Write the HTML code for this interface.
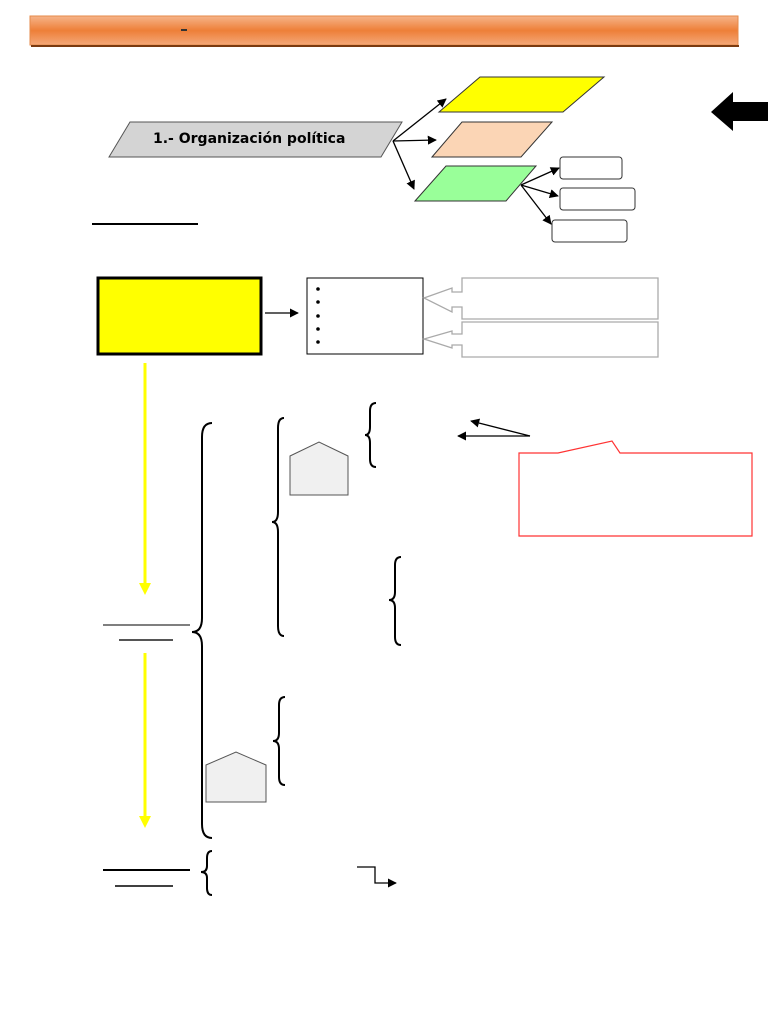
<!DOCTYPE html>
<html><head><meta charset="utf-8"><style>
html,body{margin:0;padding:0;background:#fff;}
svg{display:block;}
</style></head><body>
<svg width="768" height="1024" xmlns="http://www.w3.org/2000/svg" font-family="'Liberation Sans', sans-serif">
<defs>
<linearGradient id="hg" x1="0" y1="0" x2="0" y2="1">
<stop offset="0" stop-color="#f6b48a"/><stop offset="0.5" stop-color="#ee7f38"/><stop offset="1" stop-color="#f4a878"/>
</linearGradient>
<marker id="ah" viewBox="0 0 10 10" refX="9" refY="5" markerWidth="7" markerHeight="7" orient="auto"><path d="M0,0 L10,5 L0,10 z" fill="#000"/></marker>
</defs>
<rect x="30" y="16" width="708" height="29" fill="url(#hg)" stroke="#e58a4a"/>
<line x1="31" y1="46" x2="739" y2="46" stroke="#7a3a10" stroke-width="2"/>
<rect x="181" y="29" width="6" height="2" fill="#333"/>
<polygon points="109,157 130,122 402,122 381,157" fill="#d4d4d4" stroke="#555"/>
<text x="153" y="143" font-size="14" font-weight="bold" font-family="'DejaVu Sans', sans-serif">1.- Organización política</text>
<polygon points="439,112 480,77 604,77 563,112" fill="#ffff00" stroke="#333"/>
<polygon points="432,157 462,122 552,122 521,157" fill="#fbd5b5" stroke="#333"/>
<polygon points="415,201 446,166 536,166 506,201" fill="#99ff99" stroke="#333"/>
<g stroke="#000" stroke-width="1.3" fill="none" marker-end="url(#ah)">
<line x1="393" y1="141" x2="446" y2="99"/>
<line x1="393" y1="141" x2="436" y2="140"/>
<line x1="393" y1="141" x2="414" y2="189"/>
<line x1="521" y1="185" x2="559" y2="168"/>
<line x1="521" y1="185" x2="558" y2="196"/>
<line x1="521" y1="185" x2="551" y2="224"/>
<line x1="265" y1="313" x2="298" y2="313"/>
<line x1="530" y1="436" x2="471" y2="421"/>
<line x1="530" y1="436" x2="458" y2="436"/>
<polyline points="357,867 375,867 375,883 396,883"/>
</g>
<rect x="560" y="157" width="62" height="22" rx="3" fill="#fff" stroke="#333"/>
<rect x="560" y="188" width="75" height="22" rx="3" fill="#fff" stroke="#333"/>
<rect x="552" y="220" width="75" height="22" rx="3" fill="#fff" stroke="#333"/>
<polygon points="711,112 733,92 733,102 768,102 768,121 733,121 733,131" fill="#000"/>
<line x1="92" y1="224" x2="198" y2="224" stroke="#000" stroke-width="2"/>
<rect x="98" y="278" width="163" height="76" fill="#ffff00" stroke="#000" stroke-width="3"/>
<rect x="307" y="278" width="116" height="76" fill="#fff" stroke="#000"/>
<g fill="#000"><circle cx="318" cy="289" r="1.8"/><circle cx="318" cy="302" r="1.8"/><circle cx="318" cy="316" r="1.8"/><circle cx="318" cy="329" r="1.8"/><circle cx="318" cy="342" r="1.8"/></g>
<path d="M462,278 H658 V319 H462 V307 H452 V312 L424,298 L452,288 V292 H462 Z" fill="#fff" stroke="#aaa" stroke-width="1.3"/>
<path d="M462,322 H658 V357 H462 V345 H452 V348 L424,339 L452,331 V334 H462 Z" fill="#fff" stroke="#aaa" stroke-width="1.3"/>
<line x1="145" y1="363" x2="145" y2="584" stroke="#ffff00" stroke-width="3"/>
<polygon points="139,583 151,583 145,595" fill="#ffff00"/>
<line x1="145" y1="653" x2="145" y2="817" stroke="#ffff00" stroke-width="3"/>
<polygon points="139,816 151,816 145,828" fill="#ffff00"/>
<line x1="103" y1="625" x2="190" y2="625" stroke="#555" stroke-width="1.5"/>
<line x1="119" y1="640" x2="173" y2="640" stroke="#555" stroke-width="2"/>
<line x1="103" y1="870" x2="190" y2="870" stroke="#000" stroke-width="2"/>
<line x1="115" y1="886" x2="173" y2="886" stroke="#000" stroke-width="1.5"/>
<g stroke="#000" stroke-width="2" fill="none">
<path d="M212,423 Q202,423 202,437 L202,618 Q202,632 192,632 Q202,632 202,646 L202,824 Q202,838 212,838"/>
<path d="M284,418 Q278,418 278,428 L278,512 Q278,522 272,522 Q278,522 278,532 L278,626 Q278,636 284,636"/>
<path d="M376,403 Q370,403 370,411 L370,427 Q370,435 365,435 Q370,435 370,443 L370,459 Q370,467 376,467"/>
<path d="M401,557 Q395,557 395,565 L395,592 Q395,600 389,600 Q395,600 395,608 L395,637 Q395,645 401,645"/>
<path d="M285,697 Q279,697 279,705 L279,733 Q279,741 273,741 Q279,741 279,749 L279,777 Q279,785 285,785"/>
<path d="M212,851 Q207,851 207,858 L207,866 Q207,872 201,872 Q207,872 207,878 L207,888 Q207,895 212,895"/>
</g>
<polygon points="290,456 319,442 348,456 348,495 290,495" fill="#f0f0f0" stroke="#555"/>
<polygon points="206,765 236,752 266,765 266,802 206,802" fill="#f0f0f0" stroke="#555"/>
<path d="M519,453 H558 L612,441 L620,453 H752 V536 H519 Z" fill="#fff" stroke="#ff3333" stroke-width="1.2"/>
</svg>
</body></html>
